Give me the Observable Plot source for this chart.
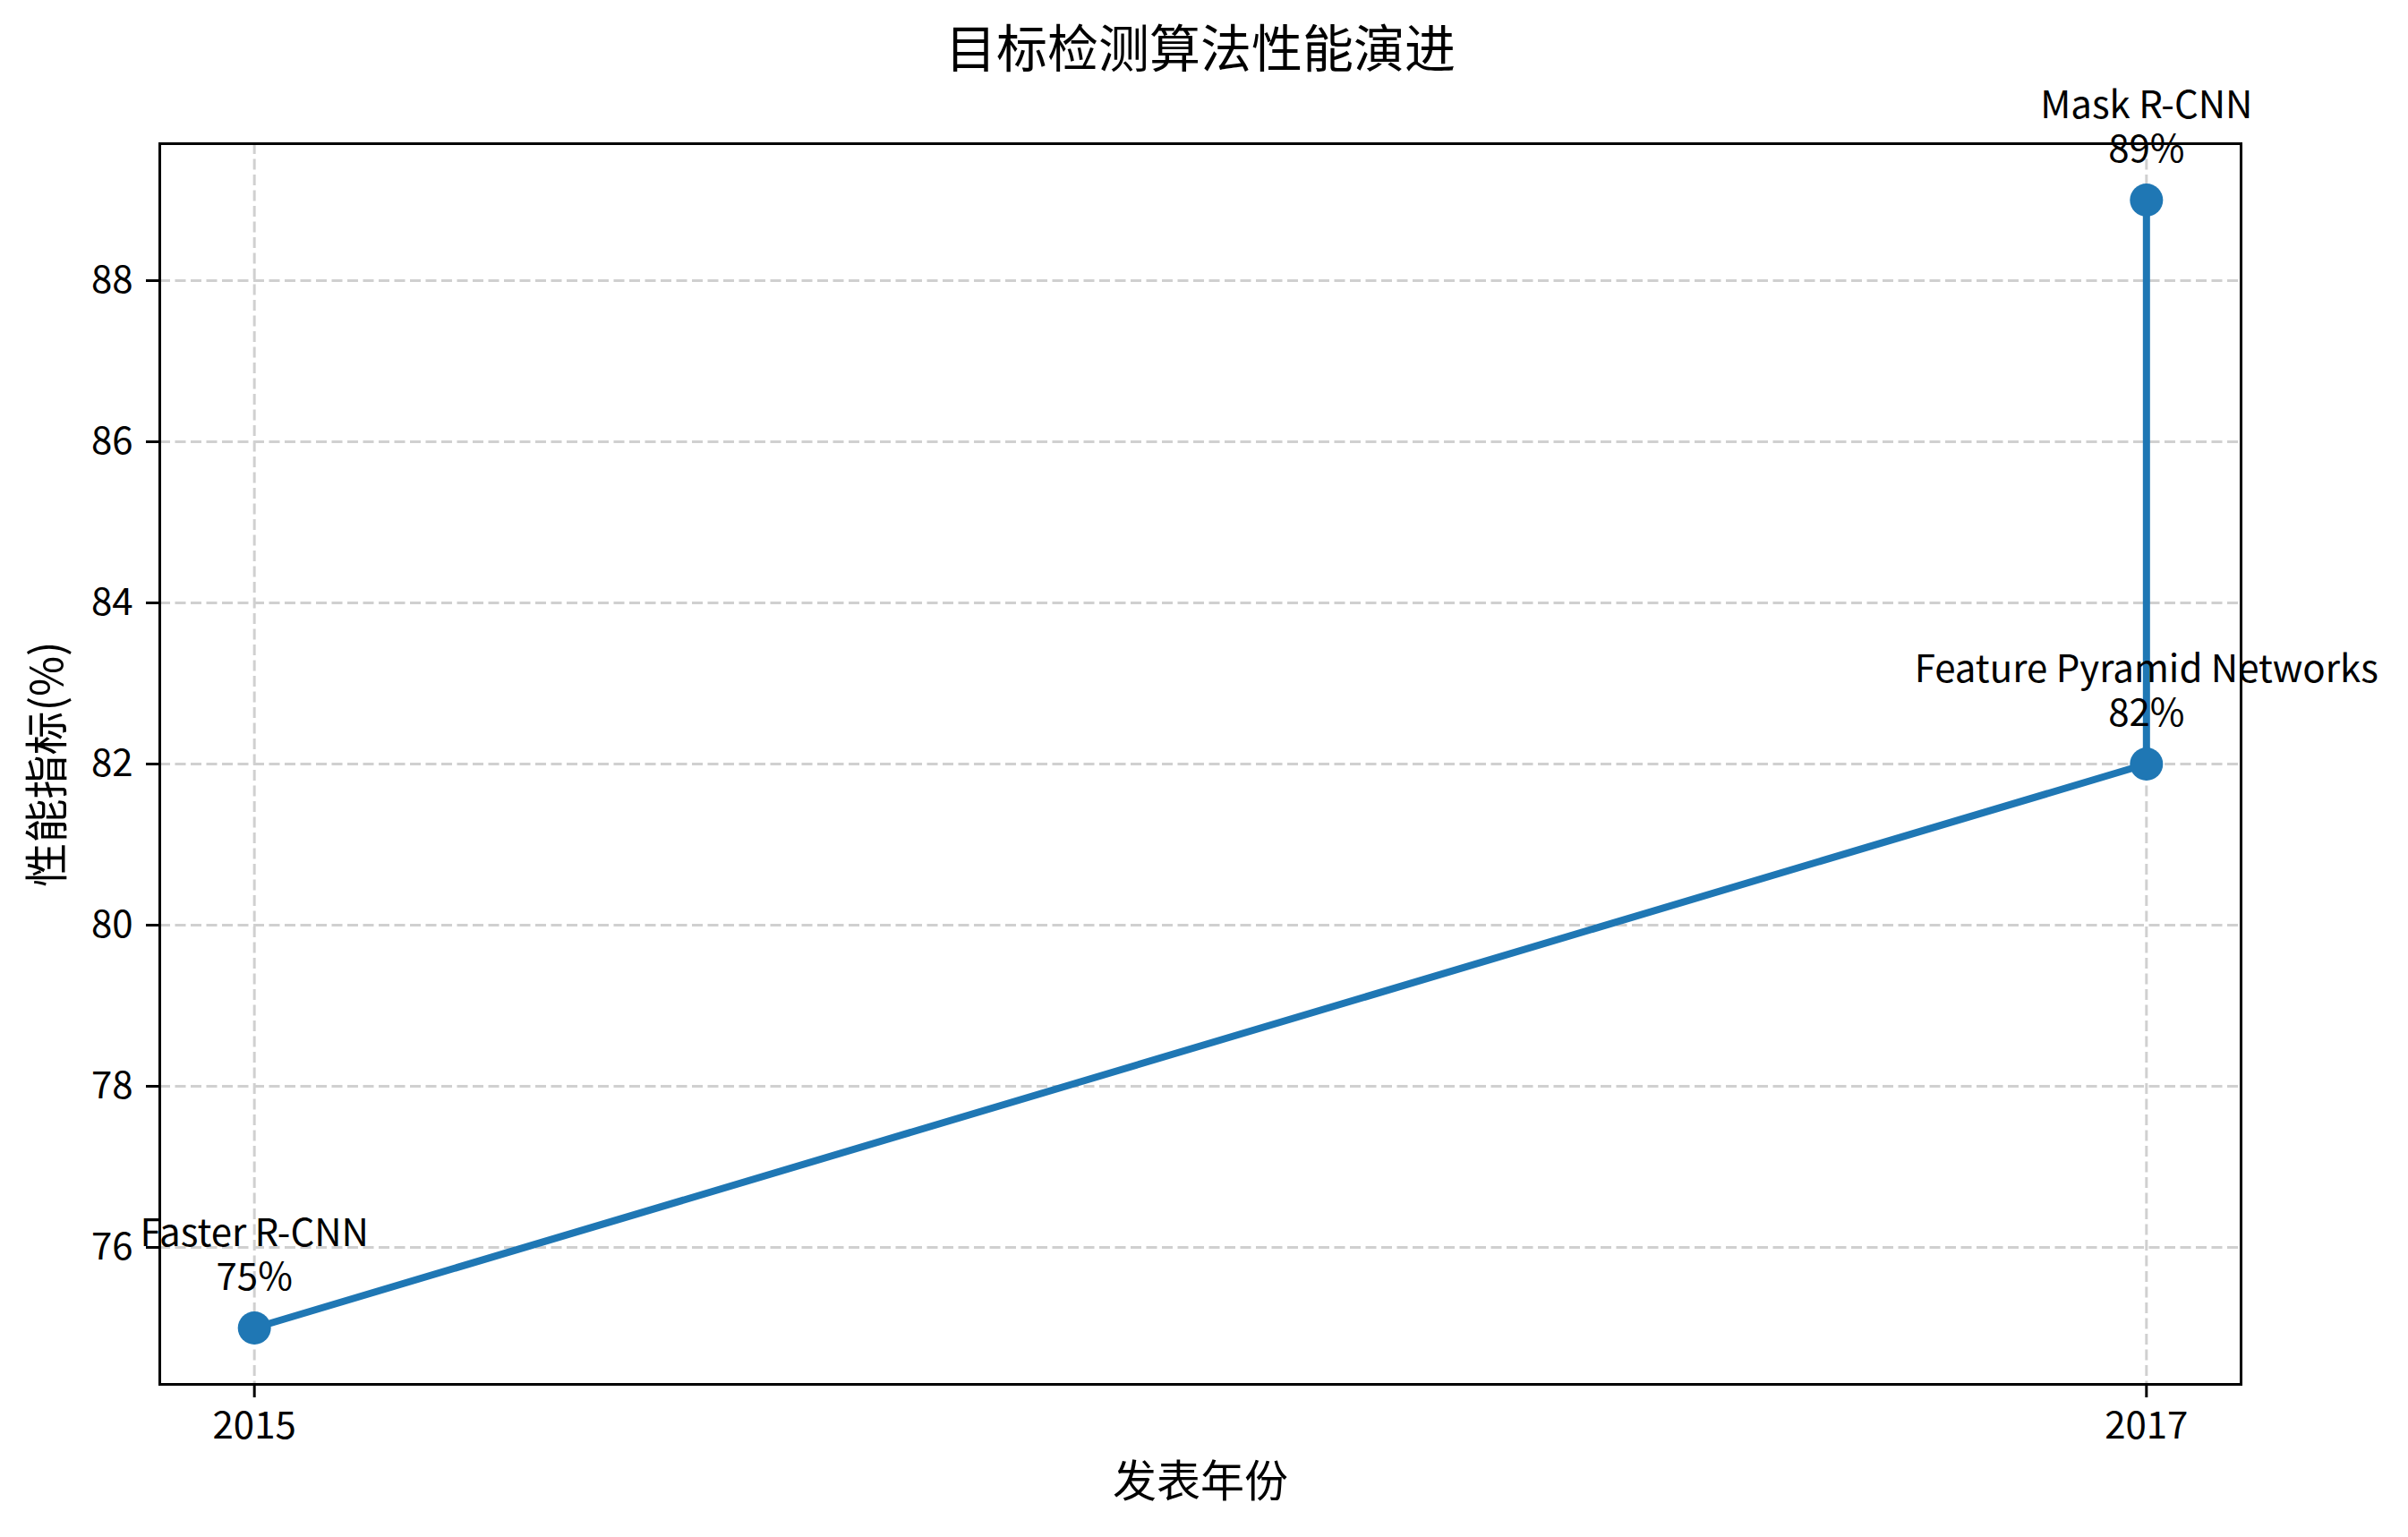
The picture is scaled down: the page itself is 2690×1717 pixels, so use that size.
<!DOCTYPE html>
<html>
<head>
<meta charset="utf-8">
<script src="https://cdn.jsdelivr.net/npm/d3@7"></script>
<script src="https://cdn.jsdelivr.net/npm/@observablehq/plot@0.6"></script>
<style>
  html, body { margin: 0; padding: 0; background: white; }
  #chart svg { display: block; max-width: none; }
</style>
</head>
<body>
<div id="chart"></div>
<script>
// Data
const years = [2015, 2017, 2017];
const models = ["Faster R-CNN", "Feature Pyramid Networks", "Mask R-CNN"];
const scores = [75, 82, 89];
const xTicks = [2015, 2017];
const yTicks = [76, 78, 80, 82, 84, 86, 88];
const titleText = "目标检测算法性能演进";
const xLabelText = "发表年份";
const yLabelText = "性能指标(%)";

const data = years.map((y, i) => ({year: y, model: models[i], score: scores[i]}));

const FONT = "'Noto Sans CJK SC', 'Noto Sans', sans-serif";
const BLUE = "#1f77b4";

const chart = Plot.plot({
  width: 2690,
  height: 1717,
  marginTop: 160,
  marginBottom: 171,
  marginLeft: 178,
  marginRight: 187,
  style: {fontFamily: FONT, background: "white", color: "black"},
  x: {domain: [2014.9, 2017.1], label: null},
  y: {domain: [74.3, 89.7], label: null},
  marks: [
    Plot.gridY(yTicks, {stroke: "#d0d0d0", strokeOpacity: 1, strokeWidth: 3, strokeDasharray: "12,5.5"}),
    Plot.gridX(xTicks, {stroke: "#d0d0d0", strokeOpacity: 1, strokeWidth: 3, strokeDasharray: "12,5.5"}),
    Plot.axisX(xTicks, {tickSize: 15, tickPadding: 16, fontSize: 42, strokeWidth: 3, tickFormat: d => String(d), label: null}),
    Plot.axisY(yTicks, {tickSize: 15, tickPadding: 15, fontSize: 42, strokeWidth: 3, tickFormat: d => String(d), label: null}),
    Plot.line(data, {x: "year", y: "score", stroke: BLUE, strokeWidth: 8}),
    Plot.dot(data, {x: "year", y: "score", r: 18.5, fill: BLUE, stroke: "none"}),
    Plot.text(data, {
      x: "year", y: "score",
      text: d => `${d.model}\n${d.score}%`,
      fontSize: 42, lineHeight: 1.15, lineAnchor: "bottom", dy: -43, fill: "black"
    }),
    Plot.frame({stroke: "black", strokeWidth: 3}),
    Plot.text([titleText], {frameAnchor: "top", text: d => d, fontSize: 57, lineAnchor: "middle", dy: -104, fill: "black"}),
    Plot.text([xLabelText], {frameAnchor: "bottom", text: d => d, fontSize: 49, lineAnchor: "middle", dy: 110, fill: "black"}),
    Plot.text([yLabelText], {frameAnchor: "left", text: d => d, fontSize: 49, textAnchor: "middle", lineAnchor: "middle", rotate: -90, dx: -124, fill: "black"})
  ]
});
document.getElementById("chart").appendChild(chart);
</script>
</body>
</html>
